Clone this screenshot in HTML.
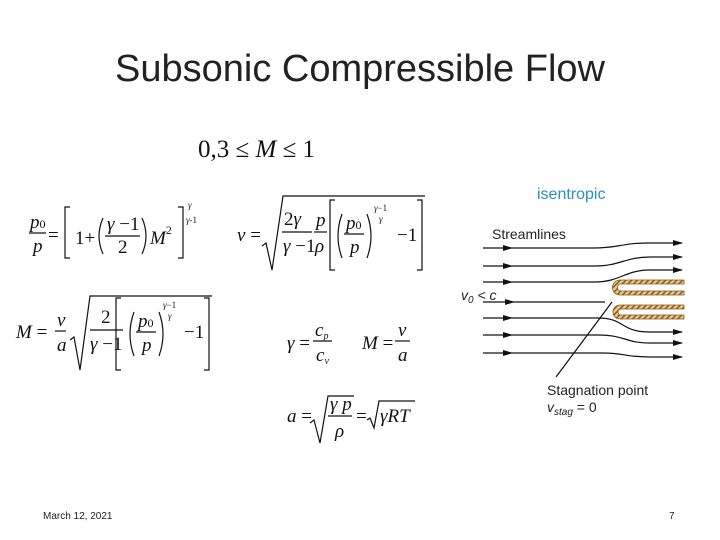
<!DOCTYPE html>
<html><head><meta charset="utf-8"><style>
body{margin:0;background:#fff}
svg{display:block}
.s{font-family:"Liberation Serif",serif;font-style:italic;fill:#111}
.r{font-family:"Liberation Serif",serif;font-style:normal;fill:#111}
.a{font-family:"Liberation Sans",sans-serif;fill:#222}
</style></head><body>
<svg width="720" height="540" viewBox="0 0 720 540" xmlns="http://www.w3.org/2000/svg">
<defs>
<marker id="ar" markerWidth="10" markerHeight="6" refX="9" refY="3" orient="auto" markerUnits="userSpaceOnUse"><path d="M0,0 L10,3 L0,6z" fill="#111"/></marker>
<pattern id="h" width="4" height="4" patternUnits="userSpaceOnUse" patternTransform="rotate(45)"><rect width="4" height="4" fill="#e8c98a"/><rect width="1.5" height="4" fill="#8a5a20"/></pattern>
</defs>
<text x="360" y="81" text-anchor="middle" class="a" font-size="38" fill="#111">Subsonic Compressible Flow</text>
<text x="198" y="157" class="r" font-size="25">0,3 ≤ <tspan font-style="italic">M</tspan> ≤ 1</text>
<text x="537" y="199" font-family="Liberation Sans,sans-serif" font-size="16" fill="#2a8fc0">isentropic</text>

<g stroke="#111" stroke-width="1.2" fill="none">
<line x1="29" y1="233" x2="46" y2="233"/>
<path d="M70,207 H65 V258 H70"/><path d="M178,207 H183 V258 H178"/>
<line x1="105" y1="236" x2="140" y2="236"/>
<path d="M103,218 Q95,236 103,254"/><path d="M142,218 Q150,236 142,254"/>
<path d="M262,246 L266,243 L272,270 L283,196 L425,196"/>
<line x1="282" y1="232" x2="312" y2="232"/><line x1="314" y1="232" x2="327" y2="232"/>
<path d="M335,200 H330 V270 H335"/><path d="M417,200 H422 V270 H417"/>
<path d="M342,214 Q334,236 342,258"/><path d="M367,214 Q375,236 367,258"/>
<line x1="344" y1="234" x2="364" y2="234"/>
<line x1="55" y1="331" x2="66" y2="331"/>
<path d="M70,340 L74,337 L80,370 L90,296 L212,296"/>
<line x1="90" y1="330" x2="123" y2="330"/>
<path d="M121,298 H116 V370 H121"/><path d="M204,298 H209 V370 H204"/>
<path d="M134,312 Q126,334 134,356"/><path d="M159,312 Q167,334 159,356"/>
<line x1="136" y1="332" x2="156" y2="332"/>
<line x1="313" y1="341" x2="332" y2="341"/><line x1="395" y1="341" x2="410" y2="341"/>
<path d="M310,423 L314,420 L320,443 L328,396 L354,396"/>
<line x1="328" y1="416" x2="352" y2="416"/>
<path d="M367,420 L370,418 L374,428 L379,401 L415,401"/>
</g>
<g class="s" font-size="19">
<text x="30" y="228">p<tspan font-size="12" font-style="normal">0</tspan></text>
<text x="33" y="252">p</text>
<text x="48" y="241" class="r">=</text>
<text x="75" y="244" class="r">1+</text>
<text x="107" y="230">γ <tspan font-style="normal">−1</tspan></text>
<text x="118" y="253" class="r">2</text>
<text x="150" y="244">M<tspan font-size="12" font-style="normal" dy="-10">2</tspan></text>
<text x="188" y="208" font-size="9">γ</text>
<text x="186" y="223" font-size="9">γ<tspan font-style="normal">-1</tspan></text>

<text x="237" y="241">v <tspan font-style="normal">=</tspan></text>
<text x="284" y="225"><tspan font-style="normal">2</tspan>γ</text>
<text x="283" y="252">γ <tspan font-style="normal">−1</tspan></text>
<text x="316" y="226">p</text><text x="315" y="252">ρ</text>
<text x="346" y="229">p<tspan font-size="12" font-style="normal">0</tspan></text>
<text x="350" y="253">p</text>
<text x="374" y="211" font-size="9">γ<tspan font-style="normal">−1</tspan></text>
<text x="379" y="222" font-size="9">γ</text>
<text x="397" y="241" class="r">−1</text>

<text x="16" y="338">M <tspan font-style="normal">=</tspan></text>
<text x="57" y="326">v</text><text x="57" y="351">a</text>
<text x="101" y="323" class="r">2</text>
<text x="90" y="350">γ <tspan font-style="normal">−1</tspan></text>
<text x="138" y="327">p<tspan font-size="12" font-style="normal">0</tspan></text>
<text x="142" y="351">p</text>
<text x="163" y="308" font-size="9">γ<tspan font-style="normal">−1</tspan></text>
<text x="168" y="319" font-size="9">γ</text>
<text x="184" y="338" class="r">−1</text>

<text x="287" y="349">γ <tspan font-style="normal">=</tspan></text>
<text x="315" y="336">c<tspan font-size="10" dy="3">p</tspan></text>
<text x="316" y="361">c<tspan font-size="10" dy="3">v</tspan></text>
<text x="362" y="349">M <tspan font-style="normal">=</tspan></text>
<text x="398" y="336">v</text><text x="398" y="361">a</text>

<text x="287" y="422">a <tspan font-style="normal">=</tspan></text>
<text x="330" y="410">γ p</text><text x="335" y="437">ρ</text>
<text x="356" y="422" class="r">=</text>
<text x="380" y="422">γRT</text>
</g>

<g stroke="#111" stroke-width="1.2" fill="none">
<path d="M483,248 H593 C620,248 620,243 650,243 H682" marker-end="url(#ar)"/>
<path d="M483,266 H595 C620,266 625,257 650,257 H682" marker-end="url(#ar)"/>
<path d="M483,282 H595 C620,282 625,270 650,270 H682" marker-end="url(#ar)"/>
<path d="M483,302 H605"/>
<path d="M483,318 H598 C625,318 620,332 650,332 H682" marker-end="url(#ar)"/>
<path d="M483,335 H598 C625,335 625,343 650,343 H682" marker-end="url(#ar)"/>
<path d="M483,353 H603 C625,353 625,357 650,357 H682" marker-end="url(#ar)"/>
<path d="M612,302 L556,377"/>
</g>
<g fill="#111">
<path d="M503,245 L513,248 L503,251z"/><path d="M503,263 L513,266 L503,269z"/><path d="M503,279 L513,282 L503,285z"/>
<path d="M505,299 L515,302 L505,305z"/><path d="M503,315 L513,318 L503,321z"/><path d="M503,332 L513,335 L503,338z"/><path d="M503,350 L513,353 L503,356z"/>
</g>
<path d="M684,280 H620 A7.5,7.5 0 0 0 620,295 H684 V291 H621 A3.5,3.5 0 0 1 621,284 H684z" fill="url(#h)" stroke="#8a5a20" stroke-width="0.8"/>
<path d="M684,305 H620 A7,7 0 0 0 620,319 H684 V315 H621 A3,3 0 0 1 621,309 H684z" fill="url(#h)" stroke="#8a5a20" stroke-width="0.8"/>
<text x="492" y="239" class="a" font-size="14">Streamlines</text>
<text x="461" y="300" class="a" font-size="14" font-style="italic">v<tspan font-size="10" dy="3">0</tspan><tspan dy="-3"> &lt; c</tspan></text>
<text x="547" y="395" class="a" font-size="14">Stagnation point</text>
<text x="547" y="412" class="a" font-size="14"><tspan font-style="italic">v<tspan font-size="10" dy="3">stag</tspan></tspan><tspan dy="-3"> = 0</tspan></text>

<text x="43" y="519" class="a" font-size="10" fill="#666">March 12, 2021</text>
<text x="669" y="519" class="a" font-size="10" fill="#666">7</text>
</svg>
</body></html>
